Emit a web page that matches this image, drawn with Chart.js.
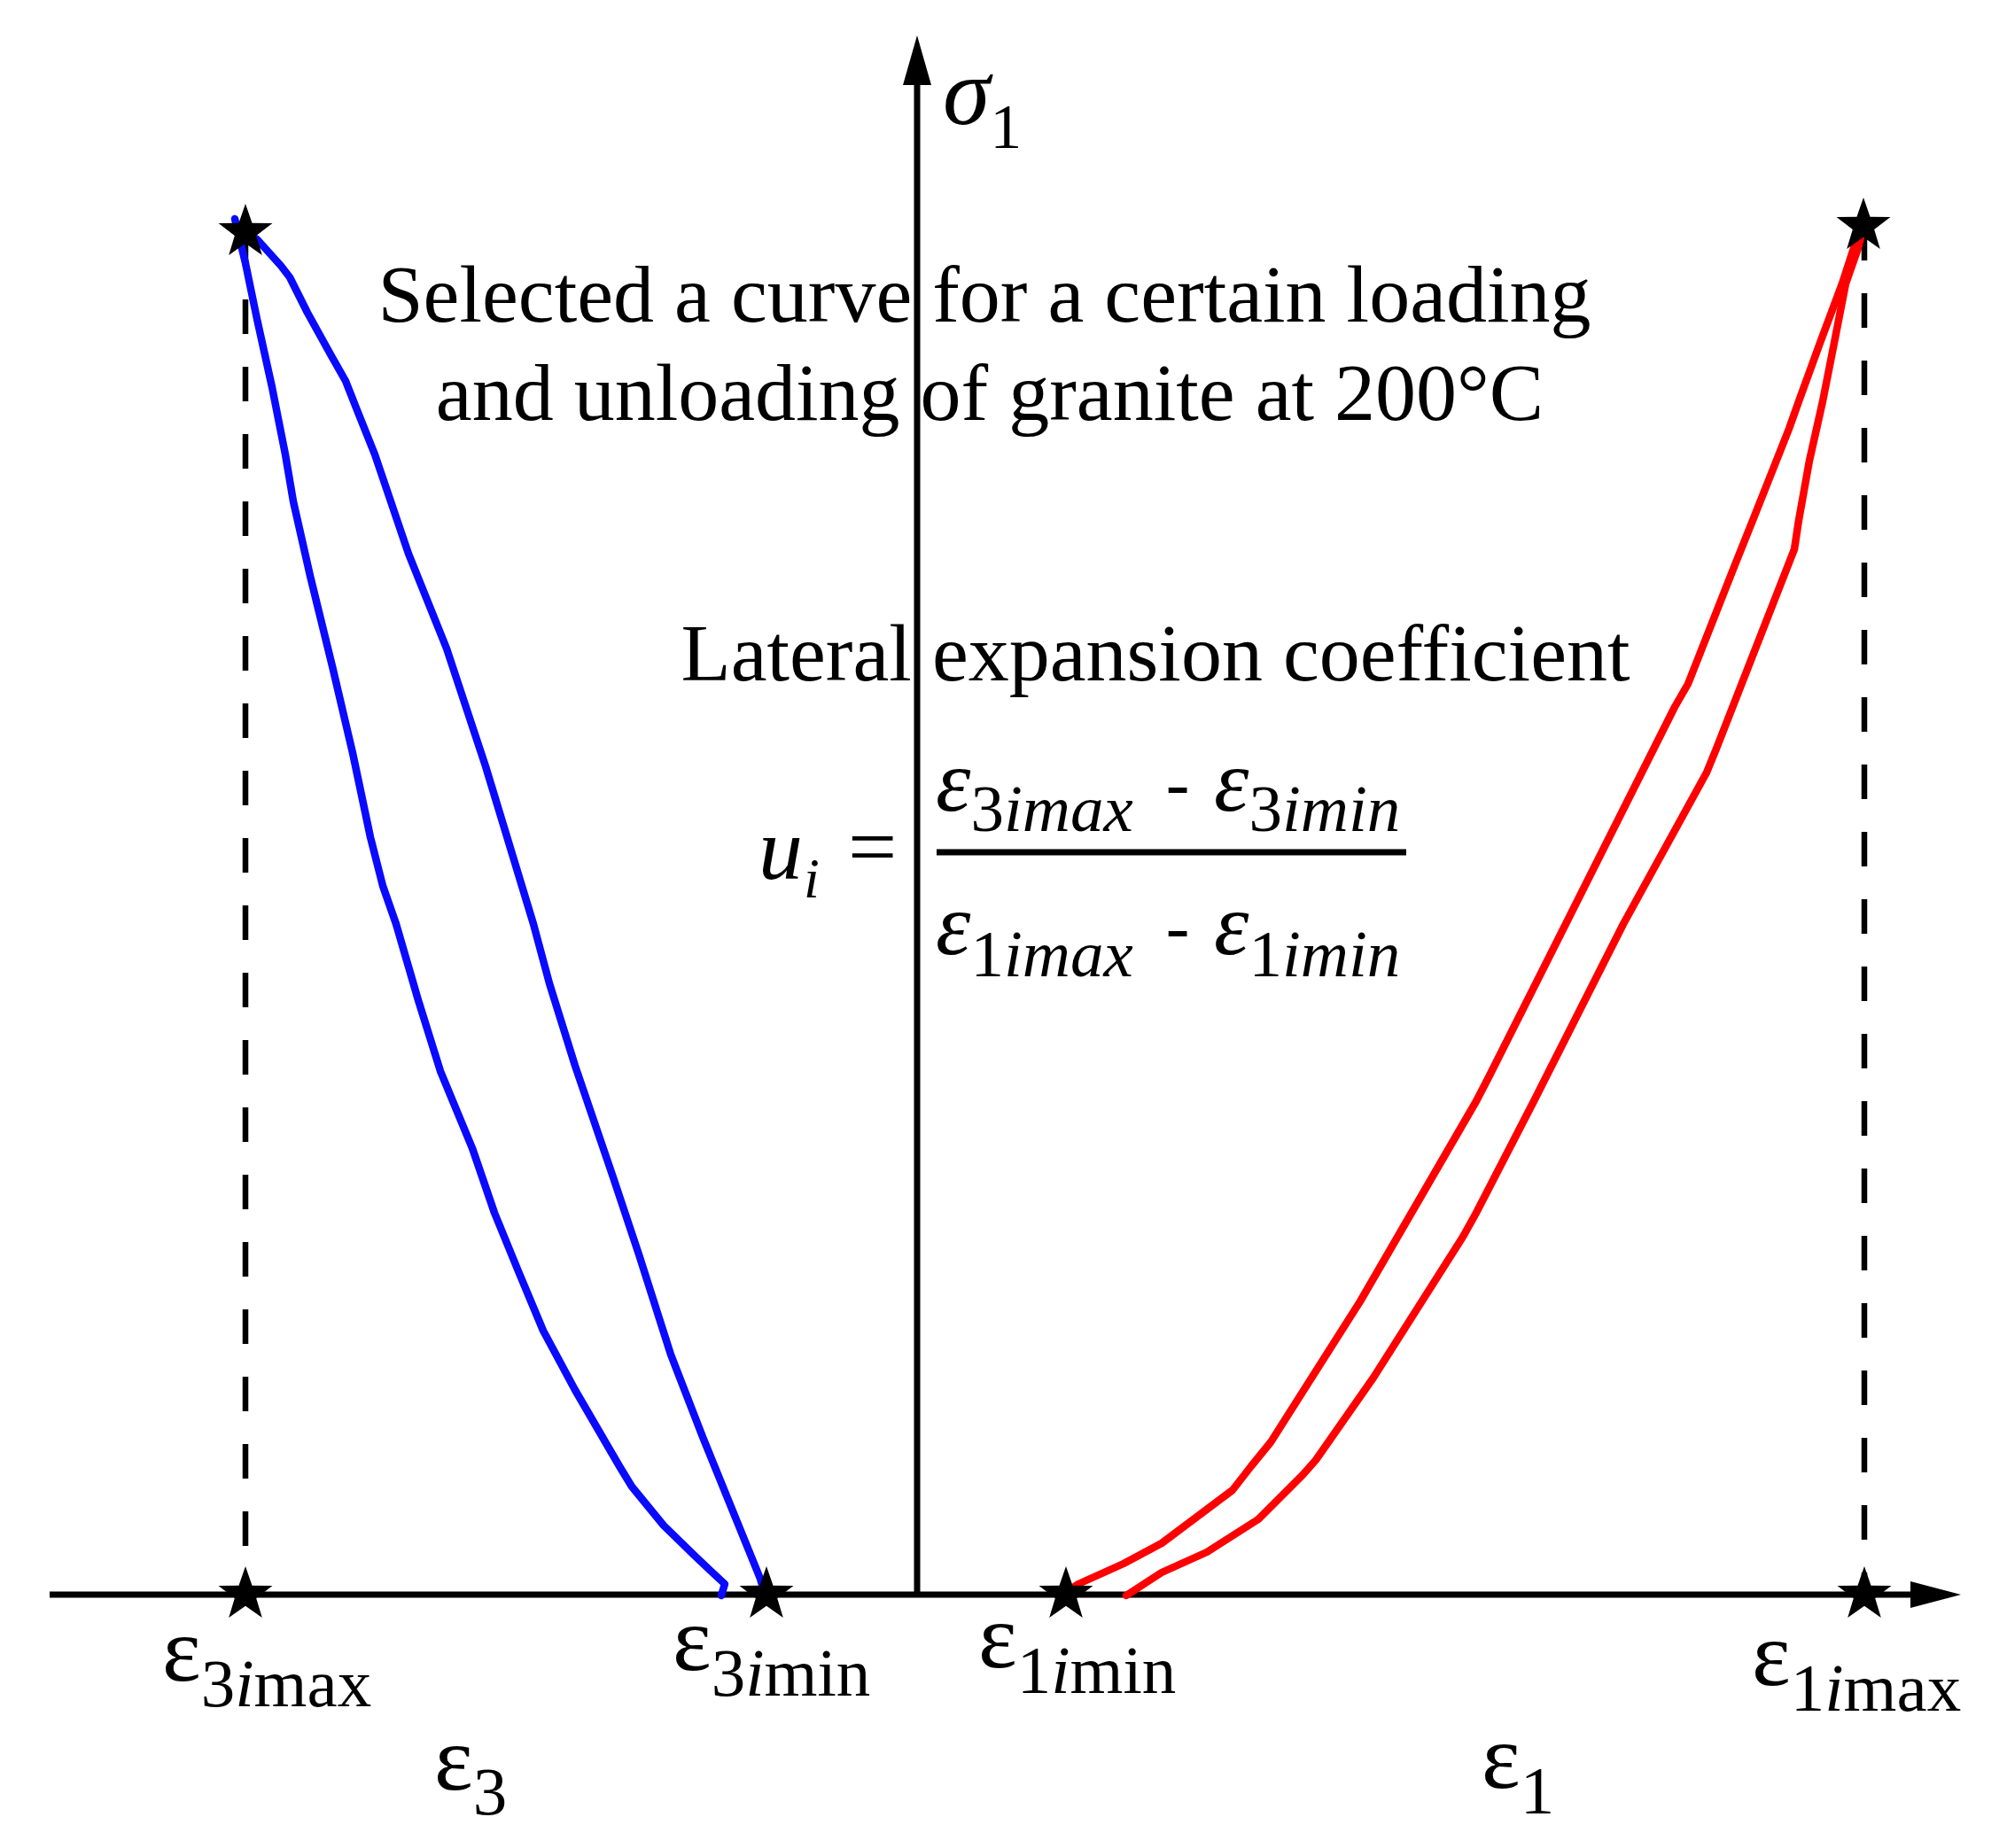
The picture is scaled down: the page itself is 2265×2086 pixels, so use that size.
<!DOCTYPE html>
<html><head><meta charset="utf-8">
<script src="https://cdn.jsdelivr.net/npm/chart.js@4.4.1/dist/chart.umd.min.js"></script>
<style>
html,body{margin:0;padding:0;background:#fff;}
#wrap{width:2265px;height:2086px;position:relative;background:#fff;}
canvas{display:block;}
</style>
</head><body>
<div id="wrap"><canvas id="c" width="2265" height="2086" style="width:2265px;height:2086px"></canvas></div>
<script>
// ---- data (strain on x, stress sigma1 on y, arbitrary schematic units) ----
const blueOuterX = [-7.70,-7.58,-7.45,-7.28,-7.13,-7.04,-6.85,-6.60,-6.37,-6.17,-6.03,-5.88,-5.63,-5.38,-5.02,-4.77,-4.50,-4.22,-3.86,-3.36,-3.22,-2.86,-2.49,-2.31,-2.17,-2.21];
const blueOuterY = [15.53,15.03,14.40,13.63,12.87,12.34,11.50,10.48,9.50,8.55,8.00,7.57,6.71,5.91,5.04,4.31,3.65,2.98,2.31,1.45,1.22,0.78,0.42,0.25,0.12,-0.01];
const blueInnerX = [-7.58,-7.45,-7.18,-7.08,-6.88,-6.62,-6.45,-6.32,-6.12,-5.74,-5.31,-4.87,-4.33,-4.15,-3.86,-3.43,-3.14,-2.78,-2.42,-1.77,-1.74];
const blueInnerY = [15.38,15.30,15.00,14.87,14.47,14.00,13.70,13.37,12.87,11.75,10.68,9.35,7.57,6.90,5.97,4.71,3.84,2.71,1.78,0.18,0.08];
const redOuterX = [10.68,10.58,10.44,10.19,9.95,9.84,9.44,9.22,8.70,8.55,7.32,6.45,6.31,5.00,3.99,3.77,3.56,3.12,2.76,2.33,1.82,1.67];
const redOuterY = [15.45,15.23,14.80,14.13,13.47,13.16,12.15,11.60,10.28,10.02,7.57,5.84,5.57,3.31,1.72,1.45,1.18,0.85,0.58,0.35,0.12,0.02];
const redInnerX = [10.68,10.62,10.48,10.35,10.22,10.07,9.95,9.90,9.02,8.91,7.97,6.96,6.31,6.16,5.15,4.50,4.35,3.85,3.27,2.76,2.36];
const redInnerY = [15.45,15.20,14.80,14.13,13.47,12.80,12.13,11.80,9.55,9.28,7.57,5.57,4.31,4.04,2.45,1.52,1.35,0.85,0.48,0.25,-0.01];
const starX = [-7.58, 10.68, -7.58, -1.70, 1.68, 10.69];
const starY = [15.38, 15.45, 0, 0, 0, 0];
const tickValues = [-7.58, -1.70, 1.68, 10.69];
const tickLabels = ['ε3imax', 'ε3imin', 'ε1imin', 'ε1imax'];
const axisTitles = ['ε3', 'ε1', 'σ1'];
const titleLines = ['Selected a curve for a certain loading', 'and unloading of granite at 200°C'];
const coefLabel = 'Lateral expansion coefficient';

const zip = (xs, ys) => xs.map((x, i) => ({x: x, y: ys[i]}));

// filled five-point star image for markers
function makeStar(R) {
  const s = Math.ceil(R * 2 + 4);
  const cv = document.createElement('canvas');
  cv.width = s; cv.height = s;
  const g = cv.getContext('2d');
  const c = s / 2, r = R * 0.40;
  g.beginPath();
  for (let k = 0; k < 10; k++) {
    const rad = k % 2 === 0 ? R : r;
    const a = -Math.PI / 2 + k * Math.PI / 5;
    const px = c + rad * Math.cos(a), py = c + rad * Math.sin(a);
    k === 0 ? g.moveTo(px, py) : g.lineTo(px, py);
  }
  g.closePath();
  g.fillStyle = '#000';
  g.fill();
  return cv;
}
const starImg = makeStar(32);

const SERIF = '"Liberation Serif", "Times New Roman", serif';
const F = (size, style) => (style ? style + ' ' : '') + size + 'px ' + SERIF;

function rich(ctx, x, y, segs, align) {
  let w = 0;
  segs.forEach(s => { ctx.font = s.f; w += ctx.measureText(s.t).width; });
  let cx = align === 'center' ? x - w / 2 : x;
  segs.forEach(s => {
    ctx.font = s.f;
    ctx.fillText(s.t, cx, y + (s.dy || 0));
    cx += ctx.measureText(s.t).width;
  });
}

// split 'ε3imax' into epsilon, digit, italic i, rest
function strainSegs(lbl, bigF, subF, subItF, dy, restItalic) {
  const rest = lbl.slice(3);
  return [
    {t: lbl[0], f: bigF},
    {t: lbl[1], f: subF, dy: dy},
    {t: lbl[2], f: subItF, dy: dy},
    {t: rest, f: restItalic ? subItF : subF, dy: dy}
  ];
}

const axesPlugin = {
  id: 'axesArrows',
  beforeDatasetsDraw(chart) {
    const ctx = chart.ctx, xs = chart.scales.x, ys = chart.scales.y;
    const x0 = xs.getPixelForValue(0), y0 = ys.getPixelForValue(0);
    ctx.save();
    ctx.strokeStyle = '#000'; ctx.fillStyle = '#000'; ctx.lineWidth = 7; ctx.lineCap = 'butt';
    // horizontal axis
    const xl = xs.getPixelForValue(-9.79), xa = xs.getPixelForValue(11.21), xt = xs.getPixelForValue(11.78);
    ctx.beginPath(); ctx.moveTo(xl, y0); ctx.lineTo(xa + 2, y0); ctx.stroke();
    ctx.beginPath(); ctx.moveTo(xa, y0 - 15); ctx.lineTo(xt, y0); ctx.lineTo(xa, y0 + 15); ctx.closePath(); ctx.fill();
    // vertical axis
    const ya = ys.getPixelForValue(17.04), yt = ys.getPixelForValue(17.60);
    ctx.beginPath(); ctx.moveTo(x0, y0 + 3); ctx.lineTo(x0, ya - 2); ctx.stroke();
    ctx.beginPath(); ctx.moveTo(x0 - 16, ya); ctx.lineTo(x0, yt); ctx.lineTo(x0 + 16, ya); ctx.closePath(); ctx.fill();
    ctx.restore();
  }
};

const textPlugin = {
  id: 'texts',
  afterDatasetsDraw(chart) {
    const ctx = chart.ctx, xs = chart.scales.x, ys = chart.scales.y;
    const y0 = ys.getPixelForValue(0);
    ctx.save();
    ctx.fillStyle = '#000'; ctx.textBaseline = 'alphabetic'; ctx.textAlign = 'left';

    // title block
    ctx.font = F(92);
    ctx.textAlign = 'center';
    ctx.fillText(titleLines[0], 1111, 363);
    ctx.fillText(titleLines[1], 1117, 474);
    ctx.fillText(coefLabel, 1304, 768);
    ctx.textAlign = 'left';

    // sigma_1 axis title
    rich(ctx, 1064, 140, [{t: axisTitles[2][0], f: F(108, 'italic')}, {t: axisTitles[2][1], f: F(72), dy: 27}], 'left');

    // formula u_i = (e3imax - e3imin)/(e1imax - e1imin)
    ctx.font = F(100, 'italic'); ctx.fillText('u', 856, 992);
    ctx.font = F(64, 'italic'); ctx.fillText('i', 907, 1013);
    ctx.font = F(98); ctx.fillText('=', 957, 988);
    ctx.strokeStyle = '#000'; ctx.lineWidth = 7;
    ctx.beginPath(); ctx.moveTo(1057, 962); ctx.lineTo(1587, 962); ctx.stroke();
    const eF = F(100, 'italic'), sF = F(75), sIt = F(75, 'italic');
    rich(ctx, 1056, 915, strainSegs(tickLabels[0], eF, sF, sIt, 23, true), 'left');
    rich(ctx, 1370, 915, strainSegs(tickLabels[1], eF, sF, sIt, 23, true), 'left');
    rich(ctx, 1056, 1077, strainSegs(tickLabels[3], eF, sF, sIt, 25, true), 'left');
    rich(ctx, 1370, 1077, strainSegs(tickLabels[2], eF, sF, sIt, 25, true), 'left');
    ctx.font = F(80); ctx.textAlign = 'center';
    ctx.fillText('-', 1329, 911);
    ctx.fillText('-', 1329, 1073);
    ctx.textAlign = 'left';

    // tick labels under the stars on the strain axis
    const bigF = F(104), subF = F(77), subIt = F(77, 'italic');
    const tickDx = [-94, -106, -99, -127];
    const tickDy = [97, 85, 82, 102];
    tickValues.forEach((v, i) => {
      const px = xs.getPixelForValue(v);
      rich(ctx, px + tickDx[i], y0 + tickDy[i], strainSegs(tickLabels[i], bigF, subF, subIt, 29, false), 'left');
    });

    // strain axis titles
    rich(ctx, 490, 2020, [{t: axisTitles[0][0], f: bigF}, {t: axisTitles[0][1], f: subF, dy: 28}], 'left');
    rich(ctx, 1672, 2018, [{t: axisTitles[1][0], f: bigF}, {t: axisTitles[1][1], f: subF, dy: 29}], 'left');
    ctx.restore();
  }
};

const lineDs = (xs, ys, color, order) => ({
  data: zip(xs, ys), showLine: true, borderColor: color, backgroundColor: color,
  borderWidth: 8.5, pointRadius: 0, pointHoverRadius: 0, fill: false, tension: 0,
  borderJoinStyle: 'round', borderCapStyle: 'round', order: order, clip: false
});

const dashDs = (x, yTop) => ({
  data: [{x: x, y: yTop}, {x: x, y: 0}], showLine: true, borderColor: '#000',
  borderWidth: 6.5, borderDash: [39, 37], pointRadius: 0, fill: false, order: 5, clip: false
});

new Chart(document.getElementById('c').getContext('2d'), {
  type: 'scatter',
  data: {
    datasets: [
      {data: zip(starX, starY), pointStyle: starImg, pointRadius: 32, pointHoverRadius: 32, showLine: false, order: 0, clip: false},
      lineDs(blueOuterX, blueOuterY, '#0a0aff', 2),
      lineDs(blueInnerX, blueInnerY, '#0a0aff', 2),
      lineDs(redOuterX, redOuterY, '#ff0000', 2),
      lineDs(redInnerX, redInnerY, '#ff0000', 2),
      dashDs(starX[0], starY[0]),
      dashDs(starX[5], starY[1])
    ]
  },
  options: {
    responsive: false, animation: false, devicePixelRatio: 1, events: [],
    layout: {padding: 0, autoPadding: false},
    plugins: {legend: {display: false}, tooltip: {enabled: false}, title: {display: false}},
    scales: {
      x: {type: 'linear', min: -10.35, max: 12.30, display: false},
      y: {type: 'linear', min: -2.86, max: 18.00, display: false}
    }
  },
  plugins: [axesPlugin, textPlugin]
});
</script>
</body></html>
